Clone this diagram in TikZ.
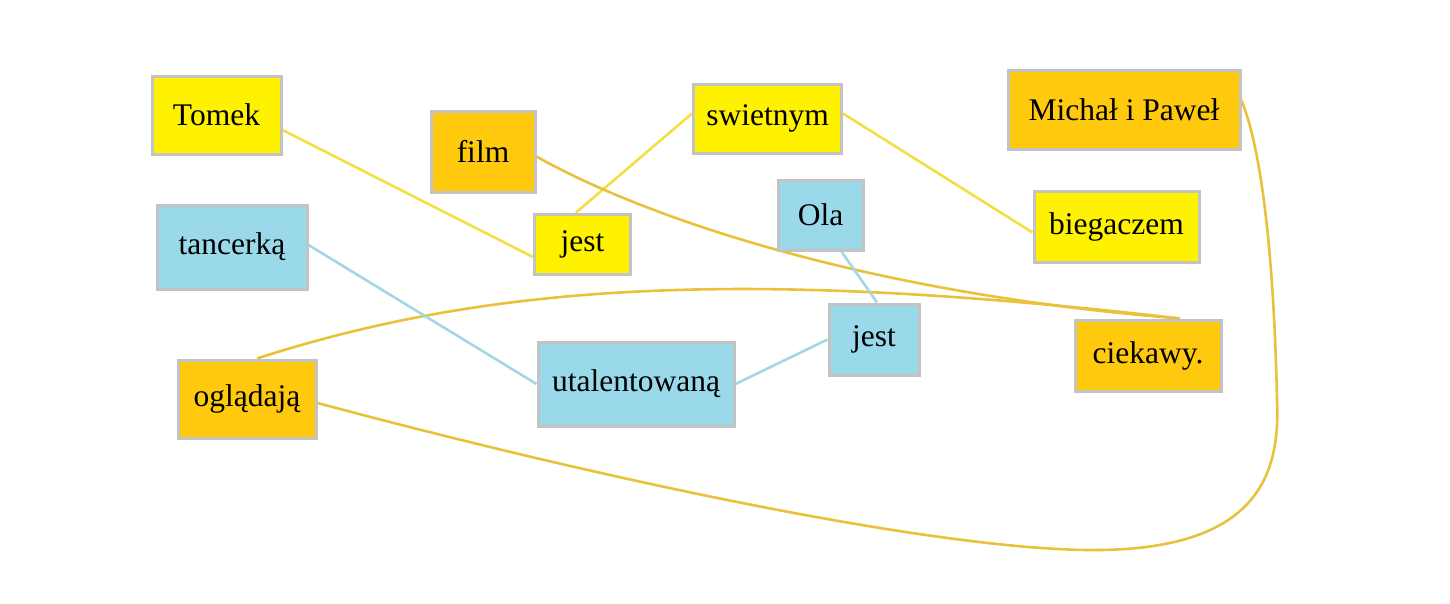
\documentclass[tikz,border=0pt]{standalone}
\usepackage{fontspec}
\setmainfont{Liberation Serif}
\usetikzlibrary{backgrounds}
\definecolor{yel}{HTML}{FFF200}
\definecolor{org}{HTML}{FFC90E}
\definecolor{blu}{HTML}{99D9EA}
\definecolor{brd}{HTML}{C3C3C3}
\definecolor{yline}{HTML}{F3DF45}
\definecolor{oline}{HTML}{E9C13A}
\definecolor{bline}{HTML}{A3D7E3}
\tikzset{
  box/.style={draw=brd, line width=3pt, inner sep=0pt, font=\fontsize{31.5}{36}\selectfont, text=black},
  ybox/.style={box, fill=yel},
  obox/.style={box, fill=org},
  bbox/.style={box, fill=blu},
  yconn/.style={draw=yline, line width=2.6pt},
  oconn/.style={draw=oline, line width=2.6pt},
  bconn/.style={draw=bline, line width=2.6pt},
}
\begin{document}
\begin{tikzpicture}[x=1pt,y=-1pt]
\useasboundingbox (0,0) rectangle (1450,603);
\node[ybox, minimum width=129pt, minimum height=78pt] (tomek) at (216.5,115) {Tomek};
\node[obox, minimum width=104pt, minimum height=81pt] (film) at (483,151.5) {film};
\node[ybox, minimum width=148pt, minimum height=69pt] (swiet) at (767.5,118.5) {swietnym};
\node[obox, minimum width=232pt, minimum height=79pt] (michal) at (1124,109.5) {Michał i Paweł};
\node[bbox, minimum width=150pt, minimum height=84pt] (tanc) at (232,247) {tancerką};
\node[ybox, minimum width=96pt, minimum height=60pt] (jestY) at (582.5,244) {jest};
\node[bbox, minimum width=85pt, minimum height=70pt] (ola) at (820.5,215) {Ola};
\node[ybox, minimum width=165pt, minimum height=71pt] (bieg) at (1116.5,226.5) {biegaczem};
\node[bbox, minimum width=90pt, minimum height=71pt] (jestB) at (874,339.5) {jest};
\node[obox, minimum width=146pt, minimum height=71pt] (ciek) at (1148,355.5) {ciekawy.};
\node[obox, minimum width=138pt, minimum height=78pt] (og) at (247,399) {oglądają};
\node[bbox, minimum width=196pt, minimum height=84pt] (utal) at (636,384) {utalentowaną};
\coordinate (ciekIn) at ([xshift=32pt]ciek.north);
\begin{pgfonlayer}{background}
\draw[yconn] ([yshift=-15pt]tomek.east) -- ([yshift=-13pt]jestY.west);
\draw[yconn] ([xshift=-6.5pt]jestY.north) -- ([yshift=5pt]swiet.west);
\draw[yconn] ([yshift=5pt]swiet.east) -- ([yshift=-6pt]bieg.west);
\draw[oconn] ([yshift=-5pt]film.east) .. controls (640,215) and (860,293) .. (ciekIn);
\draw[oconn] ([xshift=10pt]og.north) .. controls (500,280) and (760,270) .. (ciekIn);
\draw[oconn] ([yshift=-4pt]og.east) .. controls (620,484) and (950,552) .. (1100,550)
   .. controls (1262,548) and (1280,470) .. (1277,400)
   .. controls (1274,260) and (1262,150) .. ([yshift=9pt]michal.east);
\draw[bconn] ([yshift=2pt]tanc.east) -- (utal.west);
\draw[bconn] (utal.east) -- (jestB.west);
\draw[bconn] ([xshift=21pt]ola.south) -- ([xshift=3pt]jestB.north);
\end{pgfonlayer}
\end{tikzpicture}
\end{document}
